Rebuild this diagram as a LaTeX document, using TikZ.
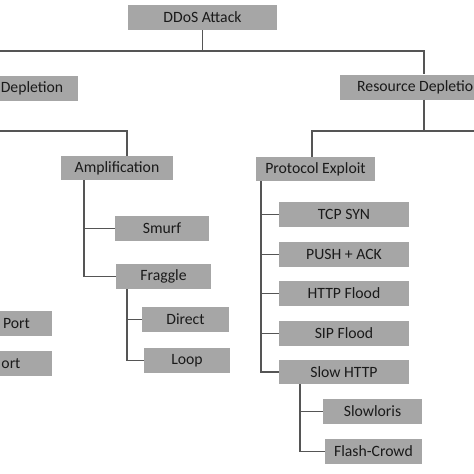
\documentclass[tikz,border=0pt]{standalone}
\usepackage{fontspec}
\setmainfont{Carlito}
\definecolor{boxgray}{HTML}{A6A6A6}
\definecolor{linegray}{HTML}{555555}
\definecolor{txt}{HTML}{1A1A1A}
\begin{document}
\begin{tikzpicture}[x=1pt,y=-1pt,
  box/.style={fill=boxgray,draw=none,minimum height=25pt,inner sep=0pt,text=txt,font=\fontsize{15.7}{18}\selectfont},
  lbl/.style={inner sep=0pt,text=txt,font=\fontsize{15.7}{18}\selectfont},
  conn/.style={draw=linegray,line width=1.3pt}]
\path[use as bounding box, clip] (0,0) rectangle (474,474);
\fill[white] (0,0) rectangle (474,474);
% boxes
\node[box,minimum width=149pt] (ddos) at (202.5,17.5) {DDoS Attack};
\node[box,minimum width=168pt] (bw) at (-6,88) {};
\node[lbl] (bwt) at (32,88) {Depletion};
\node[box,minimum width=168pt] (res) at (424,87) {};
\node[lbl,anchor=west] (rest) at (357,87) {Resource Depletio};
\node[box,minimum width=112pt,minimum height=24pt] (amp) at (117,168) {Amplification};
\node[box,minimum width=119pt,minimum height=24pt] (prot) at (315.5,169) {Protocol Exploit};
\node[box,minimum width=94pt] (smurf) at (162,228.5) {Smurf};
\node[box,minimum width=95pt] (fraggle) at (163.5,276.5) {Fraggle};
\node[box,minimum width=87pt] (direct) at (185.5,319.5) {Direct};
\node[box,minimum width=86pt] (loop) at (187,360.5) {Loop};
\node[box,minimum width=122pt] (port1) at (-9,323.5) {};
\node[lbl] (port1t) at (16.5,323.5) {Port};
\node[box,minimum width=122pt] (port2) at (-9,363.5) {};
\node[lbl] (port2t) at (11,363.5) {ort};
\node[box,minimum width=130pt] (tcp) at (344,214.5) {TCP SYN};
\node[box,minimum width=130pt] (push) at (344,254.5) {PUSH + ACK};
\node[box,minimum width=130pt] (http) at (344,293.5) {HTTP Flood};
\node[box,minimum width=130pt] (sip) at (344,333.5) {SIP Flood};
\node[box,minimum width=130pt,minimum height=24pt] (slow) at (344,372) {Slow HTTP};
\node[box,minimum width=99pt] (slowloris) at (372.5,411.5) {Slowloris};
\node[box,minimum width=97pt] (flash) at (373.5,451.5) {Flash-Crowd};
% hub coordinates
\coordinate (h1) at (0,51);
\coordinate (h2) at (0,131);
\coordinate (ampx) at (84,0);
\coordinate (fragx) at (127,0);
\coordinate (protx) at (261,0);
\coordinate (slowx) at (300,0);
% level 1
\draw[conn] (ddos.south) -- (ddos.south |- h1);
\draw[conn] (bw.north) |- (h1) -| (res.north);
% level 2
\draw[conn] (bw.south) |- (h2) -| ([xshift=10pt]amp.north);
\draw[conn] (res.south) -- (res.south |- h2);
\draw[conn] ([xshift=-3.5pt]prot.north) |- (h2 -| 480,0);
% amplification children
\draw[conn] (amp.south -| ampx) |- (fraggle.west);
\draw[conn] (smurf.west) -- (smurf.west -| ampx);
% fraggle children
\draw[conn] (fraggle.south -| fragx) |- (loop.west);
\draw[conn] (direct.west) -- (direct.west -| fragx);
% protocol exploit children
\draw[conn] (prot.south -| protx) |- (slow.west);
\draw[conn] (tcp.west) -- (tcp.west -| protx);
\draw[conn] (push.west) -- (push.west -| protx);
\draw[conn] (http.west) -- (http.west -| protx);
\draw[conn] (sip.west) -- (sip.west -| protx);
% slow http children
\draw[conn] (slow.south -| slowx) |- (flash.west);
\draw[conn] (slowloris.west) -- (slowloris.west -| slowx);
\end{tikzpicture}
\end{document}
